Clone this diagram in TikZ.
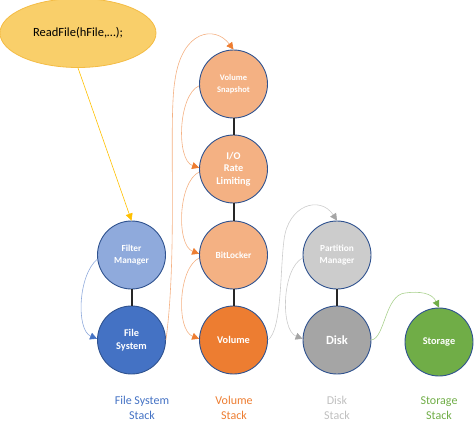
\documentclass[tikz,border=0pt]{standalone}
\usepackage{fontspec}
\setmainfont{Carlito}
\usetikzlibrary{arrows.meta,shapes.geometric}
\definecolor{cborder}{HTML}{2F528F}
\definecolor{ellfill}{HTML}{F9CF6A}
\definecolor{elldraw}{HTML}{F4BC45}
\definecolor{lorange}{HTML}{F4B183}
\definecolor{dorange}{HTML}{ED7D31}
\definecolor{lblue}{HTML}{8FAADC}
\definecolor{dblue}{HTML}{4472C4}
\definecolor{lgrey}{HTML}{CCCCCC}
\definecolor{dgrey}{HTML}{A5A5A5}
\definecolor{dgreen}{HTML}{70AD47}
\definecolor{lgreen}{HTML}{A9D18E}
\definecolor{yarrow}{HTML}{FFC000}
\definecolor{stackgrey}{HTML}{BFBFBF}
\begin{document}
\begin{tikzpicture}[x=1pt,y=-1pt,
  circ/.style={circle, draw=cborder, line width=0.9pt, minimum size=68pt, inner sep=0pt,
    text=white, align=center},
  fs9/.style={font=\bfseries\fontsize{9.3}{12}\selectfont},
  fs8/.style={font=\bfseries\fontsize{8.5}{11.5}\selectfont},
  fs10/.style={font=\bfseries\fontsize{10.3}{12.5}\selectfont},
  stacklbl/.style={align=center, font=\fontsize{12}{15}\selectfont},
  link/.style={line width=2pt, draw=black!85},
  flow/.style 2 args={line width=0.6pt, draw=#1, -{Triangle[length=7pt,width=7pt,color=#2]}},
]
\useasboundingbox (0,0) rectangle (474,431);
% call ellipse
\node[ellipse, fill=ellfill, draw=elldraw, line width=0.8pt, minimum width=156pt, minimum height=69pt,
  font=\fontsize{12.5}{14}\selectfont] (ell) at (78,33) {ReadFile(hFile,…);};
% nodes
\node[circ, fill=lblue, fs9] (fm) at (131.5,255) {Filter\\Manager};
\node[circ, fill=dblue, fs10] (fs) at (131.5,340) {File\\System};
\node[circ, fill=lorange, fs8] (vs) at (233.5,84) {Volume\\Snapshot};
\node[circ, fill=lorange, fs10] (io) at (233.5,169) {I/O\\Rate\\Limiting};
\node[circ, fill=lorange, fs9] (bl) at (233.5,255) {BitLocker};
\node[circ, fill=dorange, fs10] (vol) at (233.5,340) {Volume};
\node[circ, fill=lgrey, fs9] (pm) at (337,255) {Partition\\Manager};
\node[circ, fill=dgrey, font=\bfseries\fontsize{12.5}{14}\selectfont] (disk) at (337,340) {Disk};
\node[circ, fill=dgreen, fs10] (st) at (439,342) {Storage};
% stack labels
\node[stacklbl, text=dblue] (l1) at (142,408) {File System\\Stack};
\node[stacklbl, text=dorange] (l2) at (234,408) {Volume\\Stack};
\node[stacklbl, text=stackgrey] (l3) at (337,408) {Disk\\Stack};
\node[stacklbl, text=dgreen] (l4) at (439,408) {Storage\\Stack};
% stack links
\draw[link] (fm) -- (fs);
\draw[link] (vs) -- (io);
\draw[link] (io) -- (bl);
\draw[link] (bl) -- (vol);
\draw[link] (pm) -- (disk);
% flow arrows
\draw[flow={yarrow}{yarrow}] (ell.south) -- (fm.north);
\draw[flow={lblue}{dblue}] (fm.187) .. controls (78,275) and (76,330) .. (fs.178);
\draw[flow={lorange}{dorange}] (fs.east) .. controls (178,250) and (168,120) .. (175,80)
   .. controls (182,30) and (215,25) .. (vs.north);
\draw[flow={lorange}{dorange}] (vs.183) .. controls (178,95) and (176,160) .. (io.178);
\draw[flow={lorange}{dorange}] (io.185) .. controls (178,182) and (176,245) .. (bl.178);
\draw[flow={lorange}{dorange}] (bl.185) .. controls (178,268) and (176,330) .. (vol.178);
\draw[flow={lgrey}{dgrey}] (vol.east) .. controls (282,330) and (280,270) .. (284,240)
   .. controls (288,205) and (320,195) .. (pm.north);
\draw[flow={lgrey}{dgrey}] (pm.185) .. controls (282,268) and (280,330) .. (disk.178);
\draw[flow={lgreen}{dgreen}] (disk.east) .. controls (385,338) and (385,295) .. (405,293)
   .. controls (420,291) and (432,293) .. (st.north);
\end{tikzpicture}
\end{document}
